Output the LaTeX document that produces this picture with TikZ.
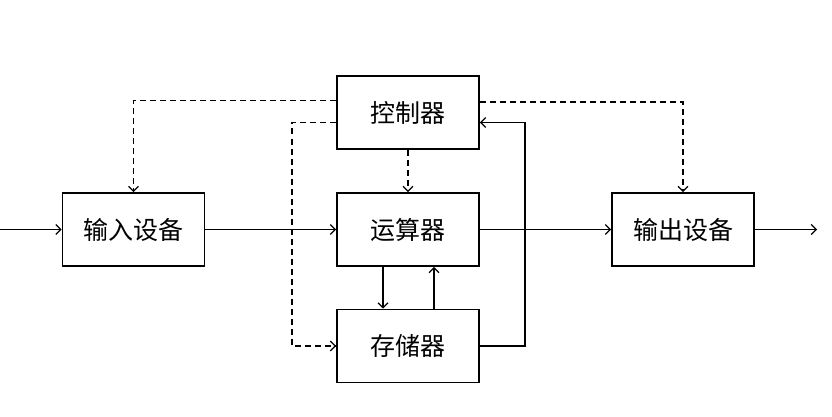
\documentclass[tikz,border=0pt]{standalone}
\usepackage{fontspec}
\newfontfamily\cjk{Noto Sans CJK SC}
\usetikzlibrary{arrows.meta}
\begin{document}
\begin{tikzpicture}[x=1pt,y=-1pt,
  box/.style={draw,line width=1.7pt,minimum width=142pt,minimum height=73pt,inner sep=0pt,font=\cjk\fontsize{25}{25}\selectfont},
  conn/.style={line width=1.6pt,-{Straight Barb[length=5pt,width=10pt,line width=1.2pt]}},
  ctrl/.style={conn,dash pattern=on 6pt off 4pt}]
\useasboundingbox (0,0) rectangle (832,417);
\node[box] (inp) at (133.5,229.5) {输入设备};
\node[box] (ctl) at (408,112.5) {控制器};
\node[box] (alu) at (408,229.5) {运算器};
\node[box] (mem) at (408,346) {存储器};
\node[box] (out) at (683,229.5) {输出设备};
\coordinate (src) at (0,229.5);
\coordinate (dst) at (817,229.5);
\draw[conn] (src) -- (inp.west);
\draw[conn] (inp.east) -- (alu.west);
\draw[conn] (alu.east) -- (out.west);
\draw[conn] (out.east) -- (dst);
\draw[conn] ([xshift=-25pt]alu.south) -- ([xshift=-25pt]mem.north);
\draw[conn] ([xshift=26pt]mem.north) -- ([xshift=26pt]alu.south);
\draw[conn] (mem.east) -- ++(45,0) |- ([yshift=-10pt]ctl.east);
\draw[ctrl] ([yshift=12pt]ctl.west) -| (inp.north);
\draw[ctrl] ([yshift=-10pt]ctl.west) -- ++(-44,0) |- (mem.west);
\draw[ctrl] (ctl.south) -- (alu.north);
\draw[ctrl] ([yshift=10.5pt]ctl.east) -| (out.north);
\end{tikzpicture}
\end{document}
